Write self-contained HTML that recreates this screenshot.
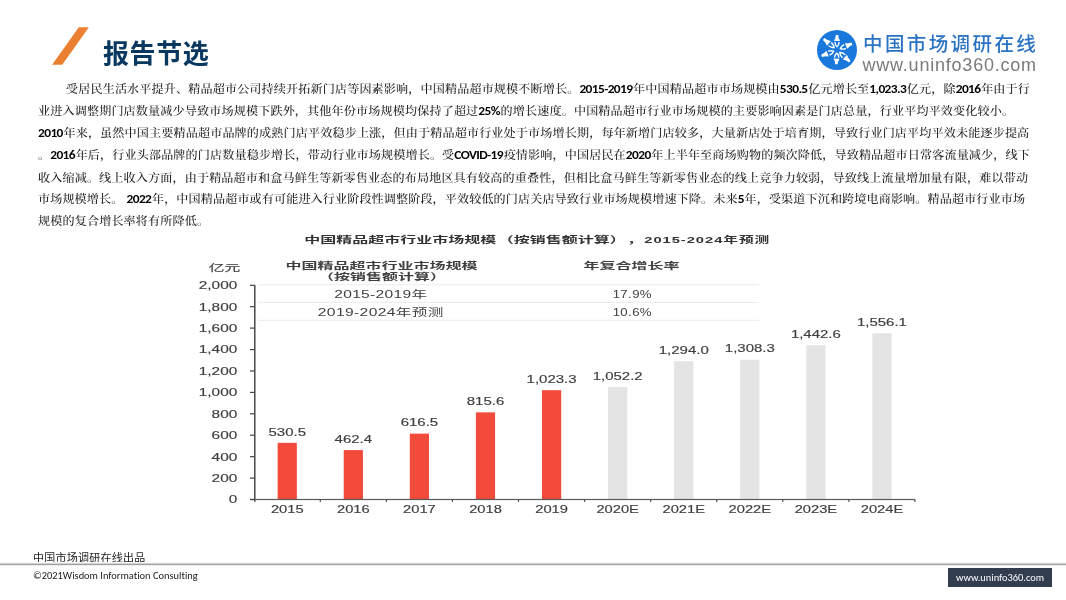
<!DOCTYPE html>
<html><head><meta charset="utf-8">
<style>
html,body{margin:0;padding:0;background:#fff;}
body{width:1066px;height:600px;position:relative;overflow:hidden;}
.abs{position:absolute;white-space:nowrap;}
#title{left:103px;top:36.7px;font:bold 26px/34px "Liberation Sans","Noto Sans CJK SC",sans-serif;color:#083860;letter-spacing:0.6px;}
#brand{left:863px;top:30px;font:500 19.5px/28px "Liberation Sans","Noto Sans CJK SC",sans-serif;color:#2a72c2;letter-spacing:2.4px;}
#url{left:862.5px;top:55px;font:18px/20px "Liberation Sans",sans-serif;color:#7a7a7a;letter-spacing:0.78px;}
.p{position:absolute;white-space:nowrap;font:500 11px/22px "Liberation Serif","Noto Serif CJK SC",serif;color:#1e1e1e;letter-spacing:0.12px;transform:scaleX(1.1);transform-origin:0 0;}
.p b{font-variant-ligatures:none;font-family:"Carlito","Liberation Sans",sans-serif;font-weight:bold;letter-spacing:-0.55px;color:#000;font-size:12.2px;margin-right:0.55px;}
.j{text-align:justify;text-align-last:justify;letter-spacing:0.05px;}
#f1{left:33px;top:549.5px;font:11px/16px "Liberation Sans","Noto Sans CJK SC",sans-serif;color:#222;letter-spacing:0.25px;}
#f2{left:33px;top:568.6px;font:10.45px/14px "Carlito","Liberation Sans",sans-serif;color:#222;font-variant-ligatures:none;}
#fline{left:0;top:562px;width:1066px;height:4px;background:linear-gradient(to bottom,#f7f7f7 0 1px,#d4d4d4 1px 2px,#a0a0a0 2px 3px,#eeeeee 3px 4px);}
#fbox{left:948px;top:568px;width:104px;height:18.5px;background:#323d50;color:#fff;font:10.4px/20px "Carlito","Liberation Sans",sans-serif;text-align:center;font-variant-ligatures:none;}
</style></head>
<body>
<!-- slash -->
<svg class="abs" style="left:0;top:0" width="120" height="80"><polygon points="78.8,27.2 88.9,27.2 62.2,64.8 52.1,64.8" fill="#eb7f32"/></svg>
<div id="title" class="abs">报告节选</div>

<!-- logo -->
<svg class="abs" style="left:813.6px;top:26.7px" width="46" height="46" viewBox="-23 -23 46 46">
<circle cx="0" cy="0" r="20" fill="#1a77dc"/>
<g fill="#fff"><g transform="rotate(0) scale(1,0.993)"><path d="M-1.2,-15 L1.2,-15 L1.7,-11.9 L2.8,-9.8 L2.8,-9.1 L-2.8,-9.1 L-2.8,-9.8 L-1.7,-11.9 Z"/><path d="M-2.1,-8 Q-1.8,-4.6 0,-3.3 Q1.8,-4.6 2.1,-8" fill="none" stroke="#fff" stroke-width="1.4"/></g><g transform="rotate(66.6) scale(1,1.087)"><path d="M-1.2,-15 L1.2,-15 L1.7,-11.9 L2.8,-9.8 L2.8,-9.1 L-2.8,-9.1 L-2.8,-9.8 L-1.7,-11.9 Z"/><path d="M-2.1,-8 Q-1.8,-4.6 0,-3.3 Q1.8,-4.6 2.1,-8" fill="none" stroke="#fff" stroke-width="1.4"/></g><g transform="rotate(132.4) scale(1,1.160)"><path d="M-1.2,-15 L1.2,-15 L1.7,-11.9 L2.8,-9.8 L2.8,-9.1 L-2.8,-9.1 L-2.8,-9.8 L-1.7,-11.9 Z"/><path d="M-2.1,-8 Q-1.8,-4.6 0,-3.3 Q1.8,-4.6 2.1,-8" fill="none" stroke="#fff" stroke-width="1.4"/></g><g transform="rotate(182.7) scale(1,0.953)"><path d="M-1.2,-15 L1.2,-15 L1.7,-11.9 L2.8,-9.8 L2.8,-9.1 L-2.8,-9.1 L-2.8,-9.8 L-1.7,-11.9 Z"/><path d="M-2.1,-8 Q-1.8,-4.6 0,-3.3 Q1.8,-4.6 2.1,-8" fill="none" stroke="#fff" stroke-width="1.4"/></g><g transform="rotate(249.2) scale(1,1.100)"><path d="M-1.2,-15 L1.2,-15 L1.7,-11.9 L2.8,-9.8 L2.8,-9.1 L-2.8,-9.1 L-2.8,-9.8 L-1.7,-11.9 Z"/><path d="M-2.1,-8 Q-1.8,-4.6 0,-3.3 Q1.8,-4.6 2.1,-8" fill="none" stroke="#fff" stroke-width="1.4"/></g><g transform="rotate(309.4) scale(1,1.153)"><path d="M-1.2,-15 L1.2,-15 L1.7,-11.9 L2.8,-9.8 L2.8,-9.1 L-2.8,-9.1 L-2.8,-9.8 L-1.7,-11.9 Z"/><path d="M-2.1,-8 Q-1.8,-4.6 0,-3.3 Q1.8,-4.6 2.1,-8" fill="none" stroke="#fff" stroke-width="1.4"/></g></g>
</svg>
<div id="brand" class="abs">中国市场调研在线</div>
<div id="url" class="abs">www.uninfo360.com</div>

<!-- paragraph -->
<div class="p j" style="top:77.7px;left:65.6px;width:876.37px;">受居民生活水平提升、精品超市公司持续开拓新门店等因素影响，中国精品超市规模不断增长。<b>2015-2019</b>年中国精品超市市场规模由<b>530.5</b>亿元增长至<b>1,023.3</b>亿元，除<b>2016</b>年由于行</div>
<div class="p" style="top:99.7px;left:38.3px;">业进入调整期门店数量减少导致市场规模下跌外，其他年份市场规模均保持了超过<b>25%</b>的增长速度。中国精品超市行业市场规模的主要影响因素是门店总量，行业平均平效变化较小。</div>
<div class="p j" style="top:121.8px;left:38.3px;width:901.18px;"><b>2010</b>年来，虽然中国主要精品超市品牌的成熟门店平效稳步上涨，但由于精品超市行业处于市场增长期，每年新增门店较多，大量新店处于培育期，导致行业门店平均平效未能逐步提高</div>
<div class="p j" style="top:143.9px;left:38.3px;width:901.73px;">。<b>2016</b>年后，行业头部品牌的门店数量稳步增长，带动行业市场规模增长。受<b>COVID-19</b>疫情影响，中国居民在<b>2020</b>年上半年至商场购物的频次降低，导致精品超市日常客流量减少，线下</div>
<div class="p j" style="top:166.7px;left:38.3px;width:900.09px;">收入缩减。线上收入方面，由于精品超市和盒马鲜生等新零售业态的布局地区具有较高的重叠性，但相比盒马鲜生等新零售业态的线上竞争力较弱，导致线上流量增加量有限，难以带动</div>
<div class="p j" style="top:187.8px;left:38.3px;width:897.36px;">市场规模增长。 <b>2022</b>年，中国精品超市或有可能进入行业阶段性调整阶段，平效较低的门店关店导致行业市场规模增速下降。未来<b>5</b>年，受渠道下沉和跨境电商影响。精品超市行业市场</div>
<div class="p" style="top:209.8px;left:38.3px;">规模的复合增长率将有所降低。</div>

<!-- chart -->
<svg class="abs" id="chart" style="left:0;top:0" width="1066" height="600">
<rect x="258.2" y="284.3" width="500.8" height="1" fill="#ebebeb"/>
<rect x="258.2" y="301.9" width="500.8" height="1" fill="#ebebeb"/>
<rect x="258.2" y="319.8" width="500.8" height="1" fill="#ebebeb"/>
<rect x="277.64" y="442.82" width="19.2" height="56.68" fill="#f24b3c"/>
<text transform="translate(287.24,435.58) scale(1.5,1)" text-anchor="middle" font-size="10" fill="#3f3f3f" font-weight="normal" font-family="Liberation Sans,sans-serif" stroke="#3f3f3f" stroke-width="0.15">530.5</text>
<text transform="translate(287.24,512.90) scale(1.47,1)" text-anchor="middle" font-size="10" fill="#3f3f3f" font-weight="normal" font-family="Liberation Sans,sans-serif" stroke="#3f3f3f" stroke-width="0.15">2015</text>
<rect x="343.72" y="450.09" width="19.2" height="49.41" fill="#f24b3c"/>
<text transform="translate(353.32,442.88) scale(1.5,1)" text-anchor="middle" font-size="10" fill="#3f3f3f" font-weight="normal" font-family="Liberation Sans,sans-serif" stroke="#3f3f3f" stroke-width="0.15">462.4</text>
<text transform="translate(353.32,512.90) scale(1.47,1)" text-anchor="middle" font-size="10" fill="#3f3f3f" font-weight="normal" font-family="Liberation Sans,sans-serif" stroke="#3f3f3f" stroke-width="0.15">2016</text>
<rect x="409.80" y="433.63" width="19.2" height="65.87" fill="#f24b3c"/>
<text transform="translate(419.40,426.37) scale(1.5,1)" text-anchor="middle" font-size="10" fill="#3f3f3f" font-weight="normal" font-family="Liberation Sans,sans-serif" stroke="#3f3f3f" stroke-width="0.15">616.5</text>
<text transform="translate(419.40,512.90) scale(1.47,1)" text-anchor="middle" font-size="10" fill="#3f3f3f" font-weight="normal" font-family="Liberation Sans,sans-serif" stroke="#3f3f3f" stroke-width="0.15">2017</text>
<rect x="475.88" y="412.35" width="19.2" height="87.15" fill="#f24b3c"/>
<text transform="translate(485.48,405.05) scale(1.5,1)" text-anchor="middle" font-size="10" fill="#3f3f3f" font-weight="normal" font-family="Liberation Sans,sans-serif" stroke="#3f3f3f" stroke-width="0.15">815.6</text>
<text transform="translate(485.48,512.90) scale(1.47,1)" text-anchor="middle" font-size="10" fill="#3f3f3f" font-weight="normal" font-family="Liberation Sans,sans-serif" stroke="#3f3f3f" stroke-width="0.15">2018</text>
<rect x="541.96" y="390.16" width="19.2" height="109.34" fill="#f24b3c"/>
<text transform="translate(551.56,382.80) scale(1.5,1)" text-anchor="middle" font-size="10" fill="#3f3f3f" font-weight="normal" font-family="Liberation Sans,sans-serif" stroke="#3f3f3f" stroke-width="0.15">1,023.3</text>
<text transform="translate(551.56,512.90) scale(1.47,1)" text-anchor="middle" font-size="10" fill="#3f3f3f" font-weight="normal" font-family="Liberation Sans,sans-serif" stroke="#3f3f3f" stroke-width="0.15">2019</text>
<rect x="608.04" y="387.07" width="19.2" height="112.43" fill="#e4e4e4"/>
<text transform="translate(617.64,379.71) scale(1.5,1)" text-anchor="middle" font-size="10" fill="#3f3f3f" font-weight="normal" font-family="Liberation Sans,sans-serif" stroke="#3f3f3f" stroke-width="0.15">1,052.2</text>
<text transform="translate(617.64,512.90) scale(1.47,1)" text-anchor="middle" font-size="10" fill="#3f3f3f" font-weight="normal" font-family="Liberation Sans,sans-serif" stroke="#3f3f3f" stroke-width="0.15">2020E</text>
<rect x="674.12" y="361.24" width="19.2" height="138.26" fill="#e4e4e4"/>
<text transform="translate(683.72,353.81) scale(1.5,1)" text-anchor="middle" font-size="10" fill="#3f3f3f" font-weight="normal" font-family="Liberation Sans,sans-serif" stroke="#3f3f3f" stroke-width="0.15">1,294.0</text>
<text transform="translate(683.72,512.90) scale(1.47,1)" text-anchor="middle" font-size="10" fill="#3f3f3f" font-weight="normal" font-family="Liberation Sans,sans-serif" stroke="#3f3f3f" stroke-width="0.15">2021E</text>
<rect x="740.20" y="359.71" width="19.2" height="139.79" fill="#e4e4e4"/>
<text transform="translate(749.80,352.28) scale(1.5,1)" text-anchor="middle" font-size="10" fill="#3f3f3f" font-weight="normal" font-family="Liberation Sans,sans-serif" stroke="#3f3f3f" stroke-width="0.15">1,308.3</text>
<text transform="translate(749.80,512.90) scale(1.47,1)" text-anchor="middle" font-size="10" fill="#3f3f3f" font-weight="normal" font-family="Liberation Sans,sans-serif" stroke="#3f3f3f" stroke-width="0.15">2022E</text>
<rect x="806.28" y="345.36" width="19.2" height="154.14" fill="#e4e4e4"/>
<text transform="translate(815.88,337.90) scale(1.5,1)" text-anchor="middle" font-size="10" fill="#3f3f3f" font-weight="normal" font-family="Liberation Sans,sans-serif" stroke="#3f3f3f" stroke-width="0.15">1,442.6</text>
<text transform="translate(815.88,512.90) scale(1.47,1)" text-anchor="middle" font-size="10" fill="#3f3f3f" font-weight="normal" font-family="Liberation Sans,sans-serif" stroke="#3f3f3f" stroke-width="0.15">2023E</text>
<rect x="872.36" y="333.23" width="19.2" height="166.27" fill="#e4e4e4"/>
<text transform="translate(881.96,325.74) scale(1.5,1)" text-anchor="middle" font-size="10" fill="#3f3f3f" font-weight="normal" font-family="Liberation Sans,sans-serif" stroke="#3f3f3f" stroke-width="0.15">1,556.1</text>
<text transform="translate(881.96,512.90) scale(1.47,1)" text-anchor="middle" font-size="10" fill="#3f3f3f" font-weight="normal" font-family="Liberation Sans,sans-serif" stroke="#3f3f3f" stroke-width="0.15">2024E</text>
<rect x="254.15" y="285.1" width="1.35" height="216.7" fill="#383838"/>
<rect x="250" y="498.9" width="665.0" height="1.2" fill="#5a5a5a"/>
<rect x="250" y="498.9" width="5" height="1.2" fill="#454545"/>
<text transform="translate(237.30,503.40) scale(1.51,1)" text-anchor="end" font-size="10.2" fill="#3f3f3f" font-weight="normal" font-family="Liberation Sans,sans-serif" stroke="#3f3f3f" stroke-width="0.15">0</text>
<rect x="250" y="477.5" width="5" height="1.2" fill="#454545"/>
<text transform="translate(237.30,481.98) scale(1.51,1)" text-anchor="end" font-size="10.2" fill="#3f3f3f" font-weight="normal" font-family="Liberation Sans,sans-serif" stroke="#3f3f3f" stroke-width="0.15">200</text>
<rect x="250" y="456.1" width="5" height="1.2" fill="#454545"/>
<text transform="translate(237.30,460.56) scale(1.51,1)" text-anchor="end" font-size="10.2" fill="#3f3f3f" font-weight="normal" font-family="Liberation Sans,sans-serif" stroke="#3f3f3f" stroke-width="0.15">400</text>
<rect x="250" y="434.6" width="5" height="1.2" fill="#454545"/>
<text transform="translate(237.30,439.14) scale(1.51,1)" text-anchor="end" font-size="10.2" fill="#3f3f3f" font-weight="normal" font-family="Liberation Sans,sans-serif" stroke="#3f3f3f" stroke-width="0.15">600</text>
<rect x="250" y="413.2" width="5" height="1.2" fill="#454545"/>
<text transform="translate(237.30,417.72) scale(1.51,1)" text-anchor="end" font-size="10.2" fill="#3f3f3f" font-weight="normal" font-family="Liberation Sans,sans-serif" stroke="#3f3f3f" stroke-width="0.15">800</text>
<rect x="250" y="391.8" width="5" height="1.2" fill="#454545"/>
<text transform="translate(237.30,396.30) scale(1.51,1)" text-anchor="end" font-size="10.2" fill="#3f3f3f" font-weight="normal" font-family="Liberation Sans,sans-serif" stroke="#3f3f3f" stroke-width="0.15">1,000</text>
<rect x="250" y="370.4" width="5" height="1.2" fill="#454545"/>
<text transform="translate(237.30,374.88) scale(1.51,1)" text-anchor="end" font-size="10.2" fill="#3f3f3f" font-weight="normal" font-family="Liberation Sans,sans-serif" stroke="#3f3f3f" stroke-width="0.15">1,200</text>
<rect x="250" y="349.0" width="5" height="1.2" fill="#454545"/>
<text transform="translate(237.30,353.46) scale(1.51,1)" text-anchor="end" font-size="10.2" fill="#3f3f3f" font-weight="normal" font-family="Liberation Sans,sans-serif" stroke="#3f3f3f" stroke-width="0.15">1,400</text>
<rect x="250" y="327.5" width="5" height="1.2" fill="#454545"/>
<text transform="translate(237.30,332.04) scale(1.51,1)" text-anchor="end" font-size="10.2" fill="#3f3f3f" font-weight="normal" font-family="Liberation Sans,sans-serif" stroke="#3f3f3f" stroke-width="0.15">1,600</text>
<rect x="250" y="306.1" width="5" height="1.2" fill="#454545"/>
<text transform="translate(237.30,310.62) scale(1.51,1)" text-anchor="end" font-size="10.2" fill="#3f3f3f" font-weight="normal" font-family="Liberation Sans,sans-serif" stroke="#3f3f3f" stroke-width="0.15">1,800</text>
<rect x="250" y="284.7" width="5" height="1.2" fill="#454545"/>
<text transform="translate(237.30,289.20) scale(1.51,1)" text-anchor="end" font-size="10.2" fill="#3f3f3f" font-weight="normal" font-family="Liberation Sans,sans-serif" stroke="#3f3f3f" stroke-width="0.15">2,000</text>
<rect x="319.7" y="499.5" width="1.2" height="2.4" fill="#4a4a4a"/>
<rect x="385.8" y="499.5" width="1.2" height="2.4" fill="#4a4a4a"/>
<rect x="451.8" y="499.5" width="1.2" height="2.4" fill="#4a4a4a"/>
<rect x="517.9" y="499.5" width="1.2" height="2.4" fill="#4a4a4a"/>
<rect x="584.0" y="499.5" width="1.2" height="2.4" fill="#4a4a4a"/>
<rect x="650.1" y="499.5" width="1.2" height="2.4" fill="#4a4a4a"/>
<rect x="716.2" y="499.5" width="1.2" height="2.4" fill="#4a4a4a"/>
<rect x="782.2" y="499.5" width="1.2" height="2.4" fill="#4a4a4a"/>
<rect x="848.3" y="499.5" width="1.2" height="2.4" fill="#4a4a4a"/>
<rect x="914.4" y="499.5" width="1.2" height="2.4" fill="#4a4a4a"/>
<text transform="translate(208.70,271.40) scale(1.72,1)" text-anchor="start" font-size="9.2" fill="#3f3f3f" font-weight="normal" font-family="Liberation Sans,Noto Sans CJK SC,sans-serif" stroke="#3f3f3f" stroke-width="0.15">亿元</text>
<text transform="translate(304.20,243.10) scale(1.74,1)" text-anchor="start" font-size="9.2" fill="#333" font-weight="bold" font-family="Liberation Sans,Noto Sans CJK SC,sans-serif">中国精品超市行业市场规模</text>
<text transform="translate(497.80,243.10) scale(1.74,1)" text-anchor="start" font-size="9.2" fill="#333" font-weight="bold" font-family="Liberation Sans,Noto Sans CJK SC,sans-serif">（按销售额计算）</text>
<text transform="translate(627.00,243.10) scale(1.74,1)" text-anchor="start" font-size="9.2" fill="#333" font-weight="bold" font-family="Liberation Sans,Noto Sans CJK SC,sans-serif">，</text>
<text transform="translate(644.30,243.10) scale(1.6,1)" text-anchor="start" font-size="9.2" fill="#333" font-weight="bold" font-family="Liberation Sans,Noto Sans CJK SC,sans-serif" style="letter-spacing:0.6px">2015-2024年预测</text>
<text transform="translate(381.40,269.20) scale(1.74,1)" text-anchor="middle" font-size="9.2" fill="#404040" font-weight="bold" font-family="Liberation Sans,Noto Sans CJK SC,sans-serif">中国精品超市行业市场规模</text>
<text transform="translate(382.00,279.80) scale(1.74,1)" text-anchor="middle" font-size="9.2" fill="#404040" font-weight="bold" font-family="Liberation Sans,Noto Sans CJK SC,sans-serif">（按销售额计算）</text>
<text transform="translate(631.60,269.40) scale(1.74,1)" text-anchor="middle" font-size="9.2" fill="#404040" font-weight="bold" font-family="Liberation Sans,Noto Sans CJK SC,sans-serif">年复合增长率</text>
<text transform="translate(380.80,298.00) scale(1.56,1)" text-anchor="middle" font-size="10" fill="#3f3f3f" font-weight="normal" font-family="Liberation Sans,Noto Sans CJK SC,sans-serif" style="letter-spacing:0.2px">2015-2019年</text>
<text transform="translate(632.30,298.20) scale(1.32,1)" text-anchor="middle" font-size="10" fill="#3f3f3f" font-weight="normal" font-family="Liberation Sans,sans-serif" style="letter-spacing:0.3px">17.9%</text>
<text transform="translate(380.80,316.10) scale(1.56,1)" text-anchor="middle" font-size="10" fill="#3f3f3f" font-weight="normal" font-family="Liberation Sans,Noto Sans CJK SC,sans-serif" style="letter-spacing:0.25px">2019-2024年预测</text>
<text transform="translate(632.30,315.60) scale(1.32,1)" text-anchor="middle" font-size="10" fill="#3f3f3f" font-weight="normal" font-family="Liberation Sans,sans-serif" style="letter-spacing:0.3px">10.6%</text>
</svg>

<!-- footer -->
<div id="f1" class="abs">中国市场调研在线出品</div>
<div id="fline" class="abs"></div>
<div id="f2" class="abs">©2021Wisdom Information Consulting</div>
<div id="fbox" class="abs">www.uninfo360.com</div>
</body></html>
